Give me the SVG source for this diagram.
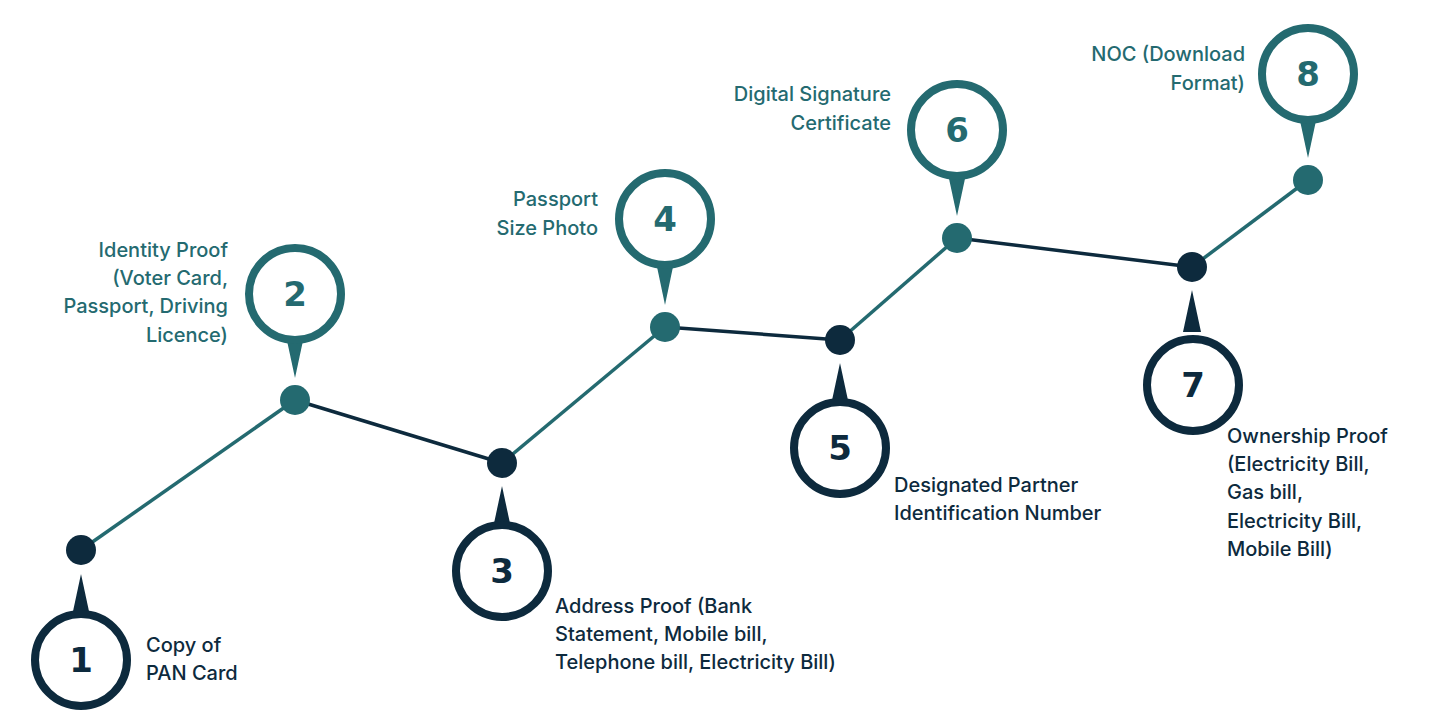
<svg xmlns="http://www.w3.org/2000/svg" width="1440" height="727" viewBox="0 0 1440 727">
<style>
.t{stroke:#246a70}.d{stroke:#0d2a3d}
.ln{stroke-width:3.5;fill:none}
.ring{fill:#fff;stroke-width:8}
.n{font-family:"DejaVu Sans",sans-serif;font-weight:bold;font-size:34px;text-anchor:middle}
.lb{font-family:Inter,"Liberation Sans",sans-serif;font-weight:500;font-size:20px}
.ft{fill:#246a70}.fd{fill:#0d2a3d}
</style>
<rect width="1440" height="727" fill="#fff"/>
<g id="connectors">
<line class="ln t" x1="81" y1="550" x2="295" y2="400"/>
<line class="ln d" x1="295" y1="400" x2="502" y2="463"/>
<line class="ln t" x1="502" y1="463" x2="665" y2="327"/>
<line class="ln d" x1="665" y1="327" x2="840" y2="340"/>
<line class="ln t" x1="840" y1="340" x2="957" y2="238"/>
<line class="ln d" x1="957" y1="238" x2="1192" y2="267"/>
<line class="ln t" x1="1192" y1="267" x2="1308" y2="180"/>
</g>
<g id="n1"><circle cx="81" cy="550" r="15" class="fd"/><path d="M81 574 L72 616 L90 616 Z" class="fd"/><circle cx="81" cy="660" r="46" class="ring d"/><text x="81" y="672" class="n fd">1</text><text class="lb fd" x="146" y="652">Copy of</text><text class="lb fd" x="146" y="680">PAN Card</text></g>
<g id="n2"><circle cx="295" cy="400" r="15" class="ft"/><path d="M295 378 L286 336 L304 336 Z" class="ft"/><circle cx="295" cy="294" r="46" class="ring t"/><text x="295" y="306" class="n ft">2</text><text class="lb ft" text-anchor="end" x="228" y="257">Identity Proof</text><text class="lb ft" text-anchor="end" x="228" y="285">(Voter Card,</text><text class="lb ft" text-anchor="end" x="228" y="313">Passport, Driving</text><text class="lb ft" text-anchor="end" x="228" y="342">Licence)</text></g>
<g id="n3"><circle cx="502" cy="463" r="15" class="fd"/><path d="M502 486 L493 528 L511 528 Z" class="fd"/><circle cx="502" cy="571" r="46" class="ring d"/><text x="502" y="583" class="n fd">3</text><text class="lb fd" x="555" y="613">Address Proof (Bank</text><text class="lb fd" x="555" y="641">Statement, Mobile bill,</text><text class="lb fd" x="555" y="669">Telephone bill, Electricity Bill)</text></g>
<g id="n4"><circle cx="665" cy="327" r="15" class="ft"/><path d="M665 305 L656 262 L674 262 Z" class="ft"/><circle cx="665" cy="219" r="46" class="ring t"/><text x="665" y="231" class="n ft">4</text><text class="lb ft" text-anchor="end" x="598" y="206">Passport</text><text class="lb ft" text-anchor="end" x="598" y="235">Size Photo</text></g>
<g id="n5"><circle cx="840" cy="340" r="15" class="fd"/><path d="M840 363 L831 405 L849 405 Z" class="fd"/><circle cx="840" cy="448" r="46" class="ring d"/><text x="840" y="460" class="n fd">5</text><text class="lb fd" x="894" y="492">Designated Partner</text><text class="lb fd" x="894" y="520">Identification Number</text></g>
<g id="n6"><circle cx="957" cy="238" r="15" class="ft"/><path d="M957 216 L948 174 L966 174 Z" class="ft"/><circle cx="957" cy="130" r="46" class="ring t"/><text x="957" y="142" class="n ft">6</text><text class="lb ft" text-anchor="end" x="891" y="101">Digital Signature</text><text class="lb ft" text-anchor="end" x="891" y="130">Certificate</text></g>
<g id="n7"><circle cx="1192" cy="267" r="15" class="fd"/><path d="M1192 290 L1183 332 L1201 332 Z" class="fd"/><circle cx="1193" cy="385" r="46" class="ring d"/><text x="1193" y="397" class="n fd">7</text><text class="lb fd" x="1227" y="443">Ownership Proof</text><text class="lb fd" x="1227" y="471">(Electricity Bill,</text><text class="lb fd" x="1227" y="499">Gas bill,</text><text class="lb fd" x="1227" y="528">Electricity Bill,</text><text class="lb fd" x="1227" y="556">Mobile Bill)</text></g>
<g id="n8"><circle cx="1308" cy="180" r="15" class="ft"/><path d="M1308 158 L1299 116 L1317 116 Z" class="ft"/><circle cx="1308" cy="74" r="46" class="ring t"/><text x="1308" y="86" class="n ft">8</text><text class="lb ft" text-anchor="end" x="1245" y="61">NOC (Download</text><text class="lb ft" text-anchor="end" x="1245" y="90">Format)</text></g>
</svg>
